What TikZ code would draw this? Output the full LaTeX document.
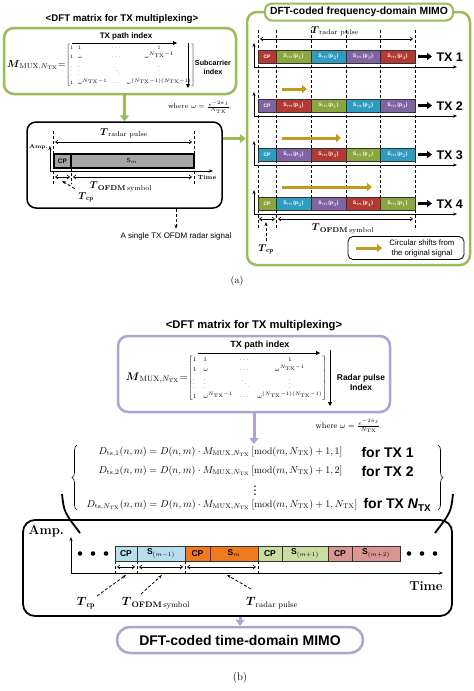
\documentclass[tikz,border=0pt]{standalone}
\usepackage{amsmath}
\usepackage{fontspec}
\setsansfont{Liberation Sans}
\usetikzlibrary{arrows.meta,positioning,decorations.pathreplacing}

\newcommand{\txtsz}[2]{\fontsize{#1}{#2}\selectfont}

\definecolor{grn}{HTML}{9BBB59}
\definecolor{prp}{HTML}{B2A1D3}
\definecolor{gold}{HTML}{C49A1C}
\definecolor{pc1}{HTML}{8AA63E}
\definecolor{pc2}{HTML}{2F9CBF}
\definecolor{pc3}{HTML}{8064A2}
\definecolor{pc4}{HTML}{B23A33}
\definecolor{lblu}{HTML}{B7DEEC}
\definecolor{lorg}{HTML}{EF7B1C}
\definecolor{lgrn}{HTML}{C9DDA1}
\definecolor{lred}{HTML}{DA9694}

\tikzset{
  grnbox/.style={draw=grn, line width=2.5pt, rounded corners=10pt},
  prpbox/.style={draw=prp, line width=2.5pt, rounded corners=10pt},
  sigbox/.style={draw, line width=1.5pt, rounded corners=9pt},
  grnline/.style={grn, line width=3pt, -{Triangle[length=6pt,width=9pt]}},
  prpline/.style={prp, line width=3pt, -{Triangle[length=6pt,width=9pt]}},
  dimline/.style={semithick, {Straight Barb[length=2.5pt,width=4pt]}-{Straight Barb[length=2.5pt,width=4pt]}},
  guide/.style={densely dashed, thick},
  pointer/.style={densely dashed, thick, -{Stealth[length=4pt]}},
  axisarr/.style={thick, -{Stealth[length=4pt]}},
  idxarr/.style={thick, -{Triangle[length=4pt,width=4pt]}},
  seg/.style={draw=black!80, line width=1pt},
  segtxt/.style={text=white, font=\sffamily\bfseries\txtsz{5}{6}, inner sep=0pt},
  shiftarr/.style={gold, line width=3pt, -{Triangle[length=5pt,width=8pt]}},
  txarr/.style={line width=2.5pt, -{Triangle[length=5pt,width=7pt]}},
}

\begin{document}
\begin{tikzpicture}[x=1pt,y=-1pt]
\useasboundingbox (0,0) rectangle (474,691);
\fill[white] (0,0) rectangle (474,691);

%% (a) DFT matrix for TX multiplexing
\node[font=\sffamily\bfseries\txtsz{9.7}{11}] (ttlA) at (122,19) {<DFT matrix for TX multiplexing>};
\node[grnbox, minimum width=232pt, minimum height=66pt] (matA) at (120,61) {};
\node[font=\sffamily\bfseries\txtsz{8}{9}] (pathA) at (126,36) {TX path index};
\draw[idxarr] (72,43) -- (177,43);
\draw[idxarr] (188,43) -- (188,88);
\node[font=\sffamily\bfseries\txtsz{7.2}{9}, align=center, inner sep=1pt] (subA) at (213,67) {Subcarrier\\index};
\node[anchor=east, inner sep=0pt, font=\txtsz{10}{12}] (mA) at (66,65) {$\boldsymbol{M}_{\mathrm{MUX},N_{\mathrm{TX}}}{=}$};
\node[anchor=west, inner sep=0pt, font=\txtsz{5}{6}] (mtxA) at (66,65)
  {$\renewcommand{\arraystretch}{1.5}\setlength{\arraycolsep}{2.2pt}\left[\begin{array}{@{}llcc@{}}
   1 & 1 & \cdots & 1\\
   1 & \omega & \cdots & \omega^{N_{\mathrm{TX}}-1}\\
   \vdots & \vdots & \ddots & \vdots\\
   1 & \omega^{N_{\mathrm{TX}}-1} & \cdots & \omega^{(N_{\mathrm{TX}}-1)(N_{\mathrm{TX}}-1)}
  \end{array}\right]$};
\node[font=\txtsz{7}{8}] (whereA) at (200,107) {where $\omega=\frac{e^{-2\pi j}}{N_{\mathrm{TX}}}$.};

%% single TX OFDM radar signal
\node[sigbox, minimum width=195pt, minimum height=86pt] (wfA) at (124.5,165) {};
\draw[grnline] (matA.south -| wfA.north) -- (wfA.north);
\draw[guide] (53,131) -- (53,184);
\draw[guide] (71,168) -- (71,184);
\draw[guide] (194,131) -- (194,184);
\draw[dimline] (55,142) -- (192,142);
\node[font=\txtsz{10}{12}] (tradA) at (124,133) {$\boldsymbol{T}_{\text{radar pulse}}$};
\draw[seg, draw=black, line width=1.3pt, fill=black!35] (54,154) rectangle (71,168);
\draw[seg, draw=black, line width=1.3pt, fill=black!35] (71,154) rectangle (194,168);
\node[font=\sffamily\bfseries\txtsz{6.5}{7}] at (62.5,161) {CP};
\node[font=\sffamily\txtsz{6}{7}] at (132,161) {S$_m$};
\draw[axisarr] (50,171) -- (50,146);
\draw[axisarr] (50,171) -- (213,171);
\node[anchor=east, inner sep=1pt, font=\bfseries\txtsz{5.5}{6}] at (49,147) {Amp.};
\node[font=\bfseries\txtsz{6}{7}] at (207,177) {Time};
\draw[dimline] (55,177) -- (70,177);
\draw[dimline] (73,177) -- (192,177);
\node[font=\txtsz{10}{12}] (tofA) at (121,187) {$\boldsymbol{T}_{\textbf{OFDM}\,\text{symbol}}$};
\node[font=\txtsz{10}{12}] (tcpA) at (86,197) {$\boldsymbol{T}_{\mathbf{cp}}$};
\coordinate (cpA) at (62,181);
\draw[pointer] (tcpA.north west) -- (cpA);
\node[font=\sffamily\txtsz{8}{9}] (capA) at (176,236) {A single TX OFDM radar signal};
\draw[pointer] (capA.north |- wfA.south) -- (capA.north);

%% (a) DFT-coded frequency-domain MIMO
\node[grnbox, minimum width=223pt, minimum height=253pt] (mimoA) at (358.5,138.5) {};
\node[grnbox, line width=2pt, rounded corners=7pt, fill=white, minimum width=188pt, minimum height=17pt,
  font=\sffamily\bfseries\txtsz{10.4}{12}] (ttlM) at (359,12) {DFT-coded frequency-domain MIMO};
\draw[grnline] (wfA.east |- mimoA.west) -- (mimoA.west);
\foreach \x in {258,276,415} \draw[guide] (\x,30) -- (\x,228);
\foreach \x in {311,346,380} \draw[guide] (\x,30) -- (\x,197);
\draw[dimline] (260,39) -- (413,39);
\node[font=\txtsz{10}{12}] (tradM) at (335,31) {$\boldsymbol{T}_{\text{radar pulse}}$};
\foreach \r in {0,...,3}{
  \pgfmathsetmacro\yt{50+49*\r}
  \pgfmathtruncatemacro\cj{mod(7-\r,4)+1}
  \pgfmathtruncatemacro\tx{\r+1}
  \draw[seg, fill=pc\cj] (258,\yt) rectangle (276,\yt+13);
  \node[segtxt] at (267,\yt+6.5) {CP};
  \foreach \s/\xa/\xb in {0/276/311,1/311/346,2/346/380,3/380/415}{
    \pgfmathtruncatemacro\j{mod(\s-\r+4,4)+1}
    \draw[seg, fill=pc\j] (\xa,\yt) rectangle (\xb,\yt+13);
    \node[segtxt] at ({(\xa+\xb)/2},\yt+6.5) {S$_m$(p$_{\j}$)};
  }
  \draw[axisarr] (254,\yt+17) -- (254,\yt-7);
  \draw[axisarr] (254,\yt+17) -- (457,\yt+17);
  \draw[txarr] (418,\yt+6.5) -- (432,\yt+6.5);
  \node[anchor=west, font=\sffamily\bfseries\txtsz{12.5}{14}] at (433,\yt+7) {TX \tx};
}
\foreach \yy/\xe in {89/307,138/341,187/372} \draw[shiftarr] (282,\yy) -- (\xe,\yy);
\draw[dimline] (259,219) -- (275,219);
\draw[dimline] (278,219) -- (413,219);
\node[font=\txtsz{10}{12}] (tofM) at (343,229) {$\boldsymbol{T}_{\textbf{OFDM}\,\text{symbol}}$};
\node[font=\txtsz{10}{12}] (tcpM) at (266,249) {$\boldsymbol{T}_{\mathbf{cp}}$};
\coordinate (cpM) at (266,222);
\draw[pointer] (tcpM.north) -- (cpM);
%% legend
\node[draw, thick, rounded corners=5pt, minimum width=116pt, minimum height=23pt] (legA) at (406,248) {};
\draw[shiftarr] (356,248) -- (382,248);
\node[font=\sffamily\txtsz{7.8}{10}, align=center] (legT) at (422,248) {Circular shifts from\\the original signal};
\node[font=\txtsz{10}{12}] (labA) at (237,281) {(a)};

%% (b) DFT matrix for TX multiplexing
\node[font=\sffamily\bfseries\txtsz{11.2}{13}] (ttlB) at (254,326) {<DFT matrix for TX multiplexing>};
\node[prpbox, minimum width=272pt, minimum height=76pt] (matB) at (254,374) {};
\node[font=\sffamily\bfseries\txtsz{9}{10}] (pathB) at (260,345) {TX path index};
\draw[idxarr] (198,353) -- (320,353);
\draw[idxarr] (330,350) -- (330,406);
\node[font=\sffamily\bfseries\txtsz{8.4}{10}, align=center] (radB) at (361,382) {Radar pulse\\Index};
\node[anchor=east, inner sep=0pt, font=\txtsz{11}{13}] (mB) at (188,378) {$\boldsymbol{M}_{\mathrm{MUX},N_{\mathrm{TX}}}{=}$};
\node[anchor=west, inner sep=0pt, font=\txtsz{6}{7}] (mtxB) at (188,378)
  {$\renewcommand{\arraystretch}{1.35}\setlength{\arraycolsep}{3.4pt}\left[\begin{array}{@{}llcc@{}}
   1 & 1 & \cdots & 1\\
   1 & \omega & \cdots & \omega^{N_{\mathrm{TX}}-1}\\
   \vdots & \vdots & \ddots & \vdots\\
   1 & \omega^{N_{\mathrm{TX}}-1} & \cdots & \omega^{(N_{\mathrm{TX}}-1)(N_{\mathrm{TX}}-1)}
  \end{array}\right]$};
\node[font=\txtsz{8}{9}] (whereB) at (349,426) {where $\omega=\frac{e^{-2\pi j}}{N_{\mathrm{TX}}}$.};
\coordinate (eqtop) at (254,444);
\draw[prpline] (matB.south) -- (eqtop);

%% time-domain equations
\node[anchor=west, font=\txtsz{9.6}{12}] (eq1) at (95,452) {$D_{\mathrm{ts},1}(n,m)=D(n,m)\cdot M_{\mathrm{MUX},N_{\mathrm{TX}}}\,[\mathrm{mod}(m,N_{\mathrm{TX}})+1,1]$};
\node[anchor=west, font=\txtsz{9.6}{12}] (eq2) at (95,471) {$D_{\mathrm{ts},2}(n,m)=D(n,m)\cdot M_{\mathrm{MUX},N_{\mathrm{TX}}}\,[\mathrm{mod}(m,N_{\mathrm{TX}})+1,2]$};
\node[inner sep=0pt, font=\bfseries\txtsz{11}{11}] (vdB) at (255,488) {$\vdots$};
\node[anchor=west, font=\txtsz{9.6}{12}] (eq3) at (83,505) {$D_{\mathrm{ts},N_{\mathrm{TX}}}(n,m)=D(n,m)\cdot M_{\mathrm{MUX},N_{\mathrm{TX}}}\,[\mathrm{mod}(m,N_{\mathrm{TX}})+1,N_{\mathrm{TX}}]$};
\node[anchor=west, font=\sffamily\bfseries\txtsz{14}{16}] (tx1B) at (358,452) {for TX 1};
\node[anchor=west, font=\sffamily\bfseries\txtsz{14}{16}] (tx2B) at (358,471) {for TX 2};
\node[anchor=west, font=\sffamily\bfseries\txtsz{14}{16}] (txnB) at (360,505) {for TX \textit{N}\textsubscript{TX}};
\draw[decorate, decoration={brace, amplitude=5pt}, semithick] (77,510) -- (77,445);
\draw[decorate, decoration={brace, amplitude=5pt}, semithick] (438,445) -- (438,510);

%% time-domain signal
\node[sigbox, line width=1.8pt, rounded corners=12pt, minimum width=429pt, minimum height=96pt] (wfB) at (237.5,568) {};
\draw[line width=1.8pt] (62,494) .. controls (64,512) .. (80,533);
\draw[line width=1.8pt] (453,494) .. controls (451,512) .. (435,533);
\node[anchor=west, font=\bfseries\txtsz{13}{14}] (ampB) at (25,531) {Amp.};
\node[font=\bfseries\txtsz{13}{14}] (timeB) at (426,586) {Time};
\foreach \x in {115,137,185,258} \draw[guide] (\x,561) -- (\x,573);
\draw[axisarr] (71,573) -- (71,537);
\draw[axisarr] (71,573) -- (443,573);
\foreach \x in {80,93,106,409,422,435} \fill (\x,553.5) circle (2.3);
\foreach \xa/\xb/\cl/\lab in {115/137/lblu/CP, 137/185/lblu/S$_{(m-1)}$, 185/210/lorg/CP, 210/258/lorg/S$_m$,
    258/282/lgrn/CP, 282/328/lgrn/S$_{(m+1)}$, 328/352/lred/CP, 352/400/lred/S$_{(m+2)}$}{
  \draw[seg, fill=\cl] (\xa,546) rectangle (\xb,561);
  \node[font=\sffamily\bfseries\txtsz{8.5}{9}] at ({(\xa+\xb)/2},553.5) {\lab};
}
\draw[dimline] (117,567) -- (135,567);
\draw[dimline] (139,567) -- (183,567);
\draw[dimline] (187,567) -- (256,567);
\node[font=\txtsz{12}{14}] (tcpB) at (86,603) {$\boldsymbol{T}_{\mathbf{cp}}$};
\node[font=\txtsz{12}{14}] (tofB) at (156,603) {$\boldsymbol{T}_{\textbf{OFDM}\,\text{symbol}}$};
\node[font=\txtsz{12}{14}] (tradB) at (272,603) {$\boldsymbol{T}_{\text{radar pulse}}$};
\coordinate (cpB) at (126,575);
\coordinate (ofB) at (162,575);
\coordinate (rdB) at (227,575);
\draw[pointer] (97,596) -- (cpB);
\draw[pointer] (141,594) -- (ofB);
\draw[pointer] (251,589) -- (rdB);

%% result
\node[prpbox, rounded corners=13pt, minimum width=246pt, minimum height=26pt,
  font=\sffamily\bfseries\txtsz{14}{16}] (mimoB) at (240,640) {DFT-coded time-domain MIMO};
\draw[prpline] (wfB.south -| mimoB.north) -- (mimoB.north);
\node[font=\txtsz{11}{13}] (labB) at (240,678) {(b)};
\end{tikzpicture}
\end{document}
